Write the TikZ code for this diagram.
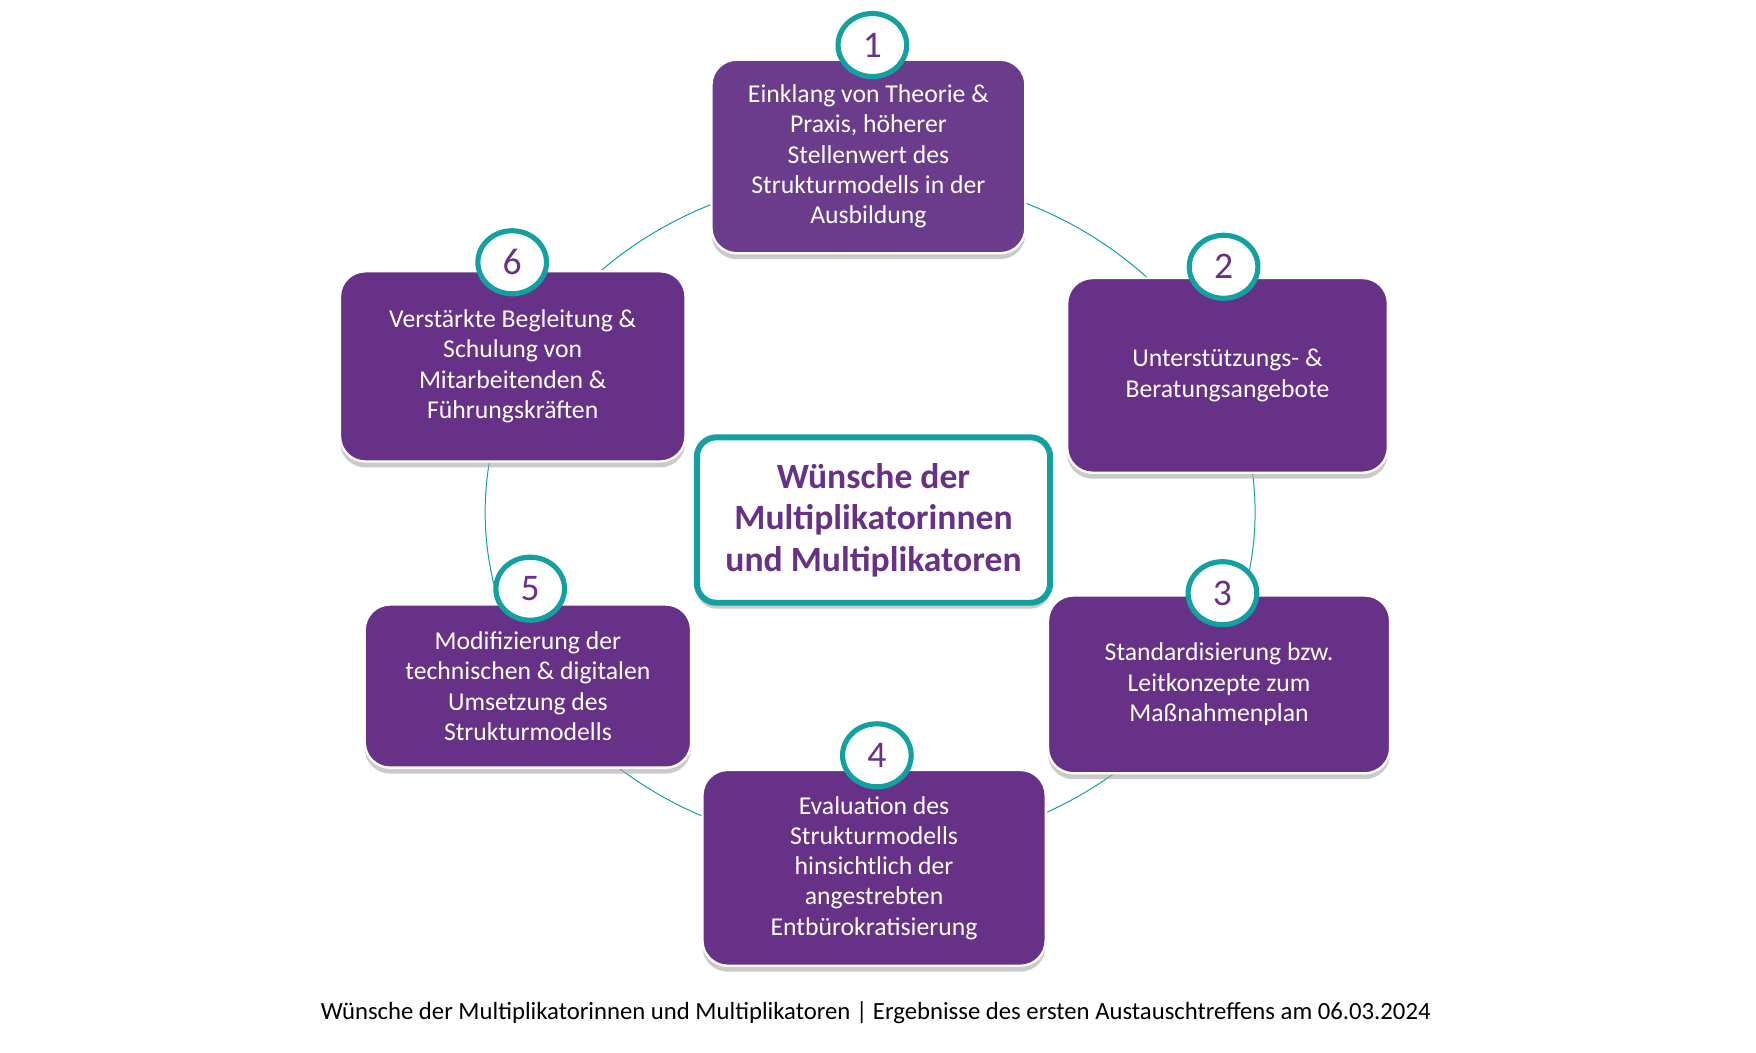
\documentclass[tikz,border=0pt]{standalone}
\usepackage{fontspec}
\setmainfont{Carlito}
\usetikzlibrary{shapes.geometric,shadows}
\definecolor{purp}{RGB}{102,49,134}
\definecolor{purpl}{RGB}{108,60,140}
\definecolor{teal2}{RGB}{18,160,160}
\begin{document}
\begin{tikzpicture}[x=0.02cm,y=-0.02cm,
 box/.style={draw=white,line width=1.2pt,fill=purp,rounded corners=0.45cm,text=white,align=center,
   font=\fontsize{13}{15.3}\selectfont,inner sep=0pt,
   drop shadow={shadow xshift=0pt,shadow yshift=-3pt,fill=black!35,opacity=0.6}},
 num/.style={ellipse,draw=teal2,line width=2.6pt,fill=white,text=purp,minimum width=1.22cm,minimum height=1.12cm,inner sep=0pt,font=\fontsize{19}{20}\selectfont},
 ring/.style={draw=teal2,line width=0.5pt}]
\useasboundingbox (0,0) rectangle (1560,935);
\draw[ring] (773,455) ellipse [x radius=342, y radius=300];
\node[box,fill=purpl,minimum width=5.58cm,minimum height=3.44cm] (b1) at (771.5,139) {Einklang von Theorie \&\\Praxis, höherer\\Stellenwert des\\Strukturmodells in der\\Ausbildung};
\node[box,minimum width=5.7cm,minimum height=3.46cm] (b2) at (1090.5,333.5) {Unterstützungs- \&\\Beratungsangebote};
\node[box,minimum width=6.08cm,minimum height=3.16cm] (b3) at (1083,608) {Standardisierung bzw.\\Leitkonzepte zum\\Maßnahmenplan};
\node[box,minimum width=6.1cm,minimum height=3.48cm] (b4) at (776.5,771) {Evaluation des\\Strukturmodells\\hinsichtlich der\\angestrebten\\Entbürokratisierung};
\node[box,minimum width=5.8cm,minimum height=2.9cm] (b5) at (469,609.5) {Modifizierung der\\technischen \& digitalen\\Umsetzung des\\Strukturmodells};
\node[box,minimum width=6.14cm,minimum height=3.38cm] (b6) at (455.5,325.5) {Verstärkte Begleitung \&\\Schulung von\\Mitarbeitenden \&\\Führungskräften};
\node[draw=teal2,line width=3pt,fill=white,rounded corners=0.35cm,minimum width=6.28cm,minimum height=2.94cm,align=center,text=purp,
  font=\fontsize{18}{21}\selectfont\bfseries,drop shadow={shadow xshift=0pt,shadow yshift=-3pt,fill=black!35,opacity=0.6}] (c) at (776,462) {Wünsche der\\Multiplikatorinnen\\und Multiplikatoren};
\node[num] (n1) at (775,40) {1};
\node[num] (n2) at (1087,237) {2};
\node[num] (n3) at (1086,527) {3};
\node[num] (n4) at (779,671) {4};
\node[num] (n5) at (471,523) {5};
\node[num] (n6) at (455,233) {6};
\node[font=\fontsize{12.5}{14}\selectfont] (cap) at (778,900) {Wünsche der Multiplikatorinnen und Multiplikatoren | Ergebnisse des ersten Austauschtreffens am 06.03.2024};
\end{tikzpicture}
\end{document}
